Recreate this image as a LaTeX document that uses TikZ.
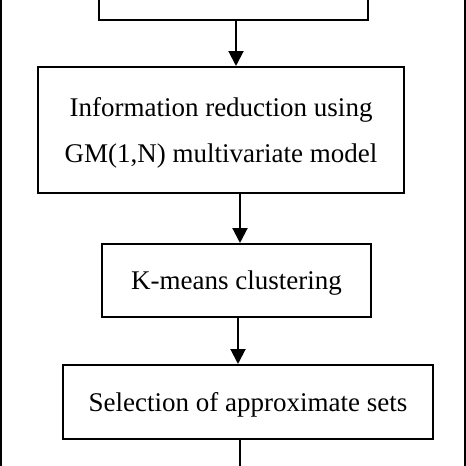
\documentclass[tikz,border=0pt]{standalone}
\usepackage{fontspec}
\setmainfont{Liberation Serif}
\usetikzlibrary{arrows.meta}

\tikzset{
    stepbox/.style={draw=black, line width=2pt, fill=white, align=center, inner sep=0pt, text depth=0pt, font=\fontsize{27}{46}\selectfont},
    flow/.style={line width=2pt, -{Triangle[length=15pt, width=15pt]}}
}

\begin{document}
\begin{tikzpicture}[x=1pt, y=-1pt]
    \useasboundingbox (0,0) rectangle (466,466);
    \clip (0,0) rectangle (466,466);

    % Outer frame edges
    \draw[line width=2.2pt] (1,0) -- (1,466);
    \draw[line width=2.2pt] (465,0) -- (465,466);

    % Steps
    \node[stepbox, minimum width=269pt, minimum height=100pt] (prev) at (233.5,-30) {};
    \node[stepbox, minimum width=366pt, minimum height=126pt] (reduce) at (221,130)
        {Information reduction using\\GM(1,N) multivariate model};
    \node[stepbox, minimum width=269pt, minimum height=73pt] (kmeans) at (236.5,280.5)
        {K-means clustering};
    \node[stepbox, minimum width=370pt, minimum height=74pt] (select) at (248,402)
        {Selection of approximate sets};
    \coordinate (next) at (240,480);

    % Arrows
    \draw[flow] ([xshift=2.5pt]prev.south) -- ([xshift=2.5pt]prev.south |- reduce.north);
    \draw[flow] ([xshift=19pt]reduce.south) -- ([xshift=19pt]reduce.south |- kmeans.north);
    \draw[flow] ([xshift=1.5pt]kmeans.south) -- ([xshift=1.5pt]kmeans.south |- select.north);
    \draw[line width=2pt] (select.south -| next) -- (next);
\end{tikzpicture}
\end{document}
